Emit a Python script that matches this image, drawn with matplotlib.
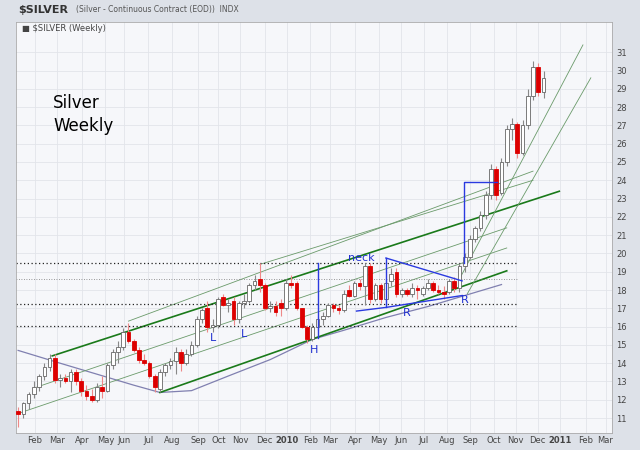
import numpy as np
import matplotlib.pyplot as plt

# Weekly OHLC, week 0 = first week of Jan 2009
opens = [11.4, 11.2, 11.8, 12.3, 12.7, 13.3, 13.8, 14.3, 13.1, 13.2, 13.0, 13.5, 13.0, 12.5, 12.2, 12.0, 12.7,
         12.5, 13.9, 14.6, 14.9, 15.7, 15.2, 14.7, 14.2, 14.0, 13.3, 12.6, 13.5, 13.9, 14.1, 14.6, 14.0, 14.5,
         15.0, 16.4, 17.0, 16.0, 16.1, 17.6, 17.2, 17.4, 16.4, 17.3, 17.4, 18.3, 18.6, 18.3, 17.0, 17.1, 17.3,
         17.0, 18.4, 18.4, 17.0, 16.0, 15.3, 16.0, 16.4, 16.6, 17.2, 17.0, 16.9, 18.0, 17.7, 18.4, 18.2, 19.3,
         17.5, 18.3, 17.5, 18.5, 19.0, 17.8, 18.0, 17.8, 18.1, 17.8, 18.1, 18.4, 18.0, 17.9, 17.9, 18.5, 18.1,
         19.3, 19.8, 20.8, 21.4, 22.1, 23.2, 24.6, 23.3, 25.0, 26.8, 27.1, 25.5, 27.0, 28.6, 30.2, 28.8]
highs = [11.6, 11.9, 12.4, 13.0, 13.4, 14.0, 14.5, 14.5, 13.4, 13.4, 13.7, 13.7, 13.2, 12.8, 12.6, 12.9, 13.3,
         14.0, 14.8, 15.2, 15.9, 16.2, 15.3, 14.9, 14.5, 14.1, 13.4, 13.7, 14.0, 14.3, 14.9, 14.8, 14.8, 15.2,
         16.6, 17.0, 17.4, 16.4, 17.6, 17.8, 17.5, 17.6, 17.4, 17.8, 18.4, 18.8, 19.5, 18.4, 17.4, 17.4, 17.5,
         18.6, 18.8, 18.5, 17.0, 16.1, 16.2, 16.5, 16.8, 17.3, 17.3, 17.2, 18.0, 18.3, 18.5, 18.6, 19.5, 19.5,
         18.4, 18.4, 18.6, 19.2, 19.2, 18.1, 18.1, 18.4, 18.3, 18.2, 18.6, 18.5, 18.3, 18.2, 18.6, 18.7, 19.5,
         20.0, 21.0, 21.5, 22.3, 23.4, 24.9, 24.8, 25.2, 27.0, 27.4, 27.2, 27.3, 29.0, 30.5, 30.4, 30.0]
lows = [10.5, 11.0, 11.5, 12.1, 12.5, 13.1, 13.6, 12.9, 12.7, 12.9, 12.4, 12.8, 12.2, 12.0, 11.9, 11.9, 12.1,
        12.4, 13.7, 14.0, 14.7, 15.1, 14.6, 14.0, 13.9, 13.2, 12.4, 12.4, 13.3, 13.7, 13.4, 13.6, 13.9, 14.4,
        14.9, 16.2, 15.7, 15.7, 15.9, 17.1, 16.8, 16.1, 16.2, 17.0, 17.3, 18.0, 17.9, 16.9, 16.8, 16.6, 16.6,
        16.9, 18.1, 16.9, 15.9, 15.1, 15.2, 15.8, 16.1, 16.5, 16.8, 16.7, 16.8, 17.6, 17.6, 18.0, 17.2, 17.3,
        17.4, 17.3, 17.4, 18.2, 17.6, 17.6, 17.7, 17.6, 17.5, 17.7, 18.0, 17.9, 17.8, 17.5, 17.8, 17.9, 17.9,
        19.0, 19.7, 20.6, 21.2, 21.9, 23.0, 22.9, 23.2, 24.8, 26.2, 25.2, 25.4, 26.8, 28.4, 28.6, 28.5]
closes = [11.2, 11.8, 12.3, 12.7, 13.3, 13.8, 14.3, 13.1, 13.2, 13.0, 13.5, 13.0, 12.5, 12.2, 12.0, 12.7, 12.5,
          13.9, 14.6, 14.9, 15.7, 15.2, 14.7, 14.2, 14.0, 13.3, 12.7, 13.5, 13.9, 14.1, 14.6, 14.0, 14.5, 15.0,
          16.4, 16.9, 16.0, 16.1, 17.5, 17.2, 17.3, 16.4, 17.3, 17.4, 18.3, 18.5, 18.3, 17.0, 17.1, 16.8, 17.0,
          18.4, 18.3, 17.0, 16.0, 15.3, 16.0, 16.4, 16.6, 17.2, 17.0, 16.9, 17.8, 17.7, 18.4, 18.2, 19.3, 17.5,
          18.3, 17.5, 18.4, 18.9, 17.8, 18.0, 17.8, 18.1, 18.0, 18.1, 18.4, 18.0, 17.9, 17.8, 18.5, 18.1, 19.3,
          19.8, 20.8, 21.4, 22.1, 23.2, 24.6, 23.2, 25.0, 26.8, 27.1, 25.5, 27.0, 28.6, 30.2, 28.8, 29.6]

# moving average (purple), read at a few weeks
ma_w = [0, 8, 15, 22, 27, 33, 40, 48, 56, 62, 70, 78, 85, 92]
ma_p = [14.7, 14.0, 13.4, 12.8, 12.4, 12.5, 13.3, 14.2, 15.3, 15.8, 16.5, 17.1, 17.7, 18.3]

# trendlines (w0, p0, w1, p1)
thick_lines = [(6.5, 14.4, 103, 23.4), (27, 12.4, 93, 19.05)]
thin_lines = [(21, 16.3, 98, 24.5), (46, 19.4, 98, 24.0), (0.5, 11.3, 93, 20.3), (3.6, 12.7, 93, 21.4),
              (84, 18.6, 107.5, 31.4), (85.5, 17.8, 109, 29.6)]
hlevels = [19.48, 17.22, 16.02]
hlevel_gray = 18.58
blue_lines = [([57, 57], [15.4, 19.48]), ([70, 70], [17.05, 19.75]),
              ([70, 84.5], [19.75, 18.5]), ([64.4, 70, 84.5], [16.85, 17.05, 17.7]),
              ([84.9, 84.9, 91.2], [19.48, 23.9, 23.9])]
labels = [("L", 37.1, 15.4), ("L", 42.9, 15.6), ("H", 56.3, 14.7), ("R", 74, 16.75), ("R", 85, 17.45),
          ("neck", 65.3, 19.75)]

months = ["Feb", "Mar", "Apr", "May", "Jun", "Jul", "Aug", "Sep", "Oct", "Nov", "Dec", "2010", "Feb", "Mar",
          "Apr", "May", "Jun", "Jul", "Aug", "Sep", "Oct", "Nov", "Dec", "2011", "Feb", "Mar"]
month_w = [3.2, 7.4, 12.2, 16.6, 20.2, 24.8, 29.3, 34.3, 38.1, 42.3, 46.9, 51.2, 55.6, 59.4, 64.2, 68.6, 72.8,
           77.2, 81.7, 86.1, 90.5, 94.7, 98.9, 103.2, 108.0, 111.8]

fig = plt.figure(figsize=(6.4, 4.5), dpi=100, facecolor="#dde1e8")
ax = fig.add_axes([0.025, 0.038, 0.931, 0.913], facecolor="#f6f7fa")

w = np.arange(len(closes))
o = np.array(opens); c = np.array(closes)
up = c >= o
ax.vlines(w[up], np.array(lows)[up], np.array(highs)[up], color="#888888", lw=0.8, zorder=3)
ax.vlines(w[~up], np.array(lows)[~up], np.array(highs)[~up], color="#ee8888", lw=0.8, zorder=3)
ax.bar(w[up], (c - o)[up], bottom=o[up], width=0.7, facecolor="white", edgecolor="#666666", lw=0.6, zorder=4)
ax.bar(w[~up], (c - o)[~up], bottom=o[~up], width=0.7, facecolor="#dd0000", edgecolor="#dd0000", lw=0.6, zorder=4)

ax.plot(ma_w, ma_p, color="#8080b0", lw=0.9, zorder=2)
for x0, y0, x1, y1 in thick_lines:
    ax.plot([x0, x1], [y0, y1], color="#1a7a1a", lw=1.2, zorder=2)
for x0, y0, x1, y1 in thin_lines:
    ax.plot([x0, x1], [y0, y1], color="#6a9a6a", lw=0.6, zorder=2)
for lv in hlevels:
    ax.plot([-0.4, 95], [lv, lv], color="#222222", lw=0.9, ls=(0, (1, 2)), zorder=2)
ax.plot([-0.4, 95], [hlevel_gray, hlevel_gray], color="#777777", lw=0.6, ls=(0, (1, 2)), zorder=2)
for xs, ys in blue_lines:
    ax.plot(xs, ys, color="#2a3ae0", lw=1.0, zorder=5)
for t, x, y in labels:
    ax.text(x, y, t, color="#2030d0", fontsize=8, ha="center", va="center", zorder=6)

ax.text(6.7, 27.6, "Silver\nWeekly", fontsize=12, va="center", linespacing=1.3)
ax.text(0.8, 32.3, "\u25a0 $SILVER (Weekly)", fontsize=6, color="#444444", va="center")

ax.set_xlim(-0.4, 113)
ax.set_ylim(10.19, 32.65)
ax.yaxis.tick_right()
ax.set_yticks(range(11, 32))
ax.tick_params(axis="y", labelsize=6, colors="#444444", length=0, pad=3)
ax.set_xticks(month_w)
ax.set_xticklabels(months)
for lab in ax.get_xticklabels():
    lab.set_fontsize(6)
    if lab.get_text() in ("2010", "2011"):
        lab.set_fontweight("bold")
ax.tick_params(axis="x", length=0, pad=2, colors="#444444")
ax.grid(True, color="#e2e4ea", lw=0.6)
ax.set_axisbelow(True)
for s in ax.spines.values():
    s.set_color("#aaaaaa"); s.set_linewidth(0.6)

fig.text(0.028, 0.978, "$SILVER", fontsize=8, fontweight="bold", color="#333333", va="center")
fig.text(0.118, 0.978, "(Silver - Continuous Contract (EOD))  INDX", fontsize=5.5, color="#555555", va="center")

fig.savefig("out.png", dpi=100, facecolor=fig.get_facecolor())
